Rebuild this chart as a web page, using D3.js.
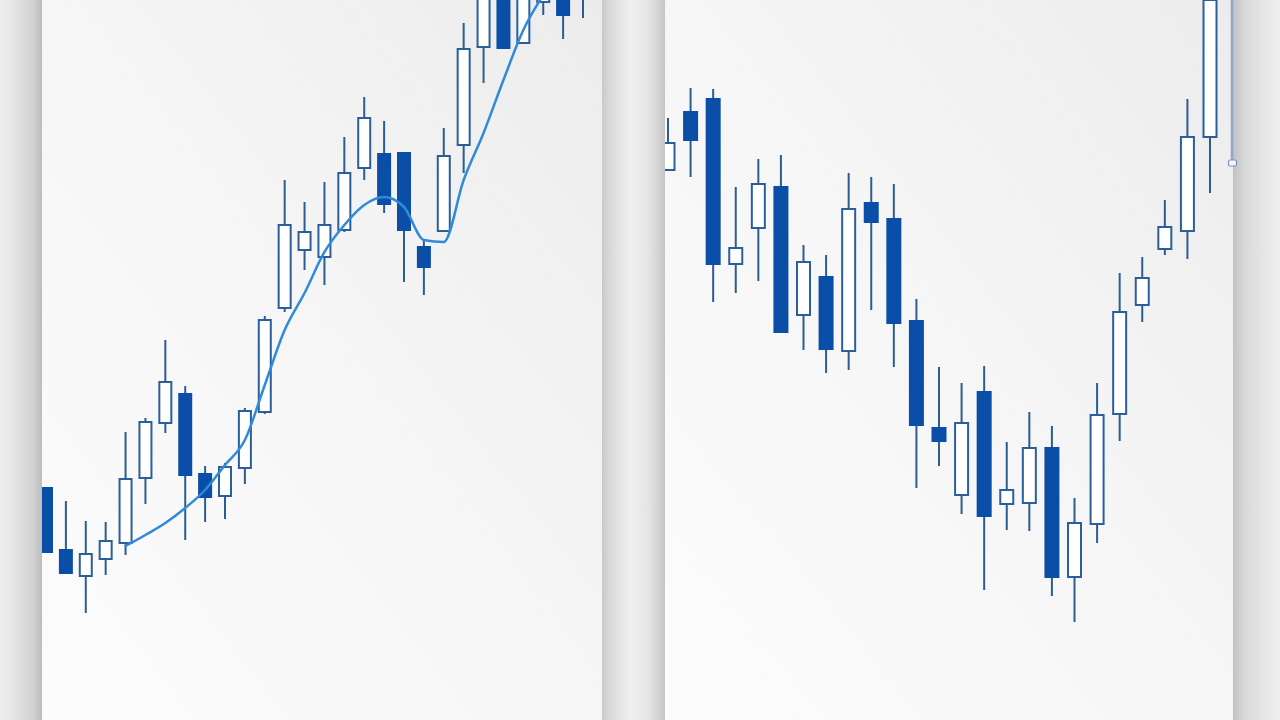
<!DOCTYPE html>
<html><head><meta charset="utf-8">
<script src="https://cdn.jsdelivr.net/npm/d3@7"></script>
<style>html,body{margin:0;padding:0;background:#e6e6e6;overflow:hidden}</style>
</head><body>
<svg id="c" width="1280" height="720"></svg>
<script>
// ---- Left chart (uptrend) ----
const leftOpen  = [46.4,34,28.8,32.2,35.4,48.4,59.4,65.2,49.2,44.8,50.4,61.6,82.4,94,92.6,98,110.4,113.2,113.4,94.6,97.8,115,134.6,150,135.4,143.6,150,144.4];
const leftHigh  = [46.4,43.8,39.8,39.6,57.6,60.4,76,66.8,50.8,51.4,62.4,80.8,108,103.6,107.6,116.6,124.6,119.8,113.4,96,118.4,139.4,155,155,155,155,155,155];
const leftLow   = [33.6,29.4,21.4,29,33,43.2,57.4,36,39.6,40.2,47.2,61.2,81.6,90,87,97.6,108,101.4,87.6,85,97.8,109.4,127.4,134.4,135.4,141,136.2,140.4];
const leftClose = [33.6,29.4,33.2,35.8,48.2,59.6,67.6,49,44.6,50.6,61.8,80,99,97.6,99,109.4,120.4,103.2,98,90.6,112.8,134.2,150,134.4,150,150,141,150];
const leftMA    = [null,null,null,null,34.8,37,39.4,42.4,46,51,56,67,78,85.4,93.6,99,103,104.6,102.6,96,95.6,108,117.4,128,138,145,null,null];

// ---- Right chart (down then up) ----
const rightOpen  = [110,121.6,124.2,91.2,98.4,106.6,81,88.6,73.8,103.4,100.2,79.8,58.4,45,65.6,43.2,43.4,54.4,28.6,39.2,61.2,83,94.2,97.8,116.6];
const rightHigh  = [120.4,126.4,126.2,106.6,112.2,113,95,93,109.4,108.6,107.2,84.2,70.6,67.4,70.8,55.6,61.6,58.8,44.4,67.4,89.4,92.6,104,124.2,150];
const rightLow   = [110,108.6,83.6,85.4,87.8,77.6,74,69.4,70,82,70.6,46.4,50.8,41.2,26,38,37.8,24.8,19.6,35.4,55.8,79.6,93,92.2,105.4];
const rightClose = [115.4,116,91.2,94.4,107.2,77.6,91.6,74.2,102.2,99.6,79.4,59,55.8,59.4,40.8,46,54.4,28.6,39.4,61,81.6,88.4,98.6,116.6,144];

const W = 1280, H = 720;
const svg = d3.select("#c");
const defs = svg.append("defs");

function hGrad(id, stops, x1=0,y1=0,x2=1,y2=0){
  const g = defs.append("linearGradient").attr("id",id)
    .attr("x1",x1).attr("y1",y1).attr("x2",x2).attr("y2",y2);
  stops.forEach(([o,c])=>g.append("stop").attr("offset",o).attr("stop-color",c));
}
hGrad("gLeftGutter",[[0,"#ededed"],[0.3,"#e6e6e6"],[0.8,"#d0d0d0"],[1,"#bcbcbc"]]);
hGrad("gGap",[[0,"#c9c9c9"],[0.12,"#d9d9d9"],[0.45,"#f0f0f0"],[0.75,"#e4e4e4"],[0.95,"#cdcdcd"],[1,"#c4c4c4"]]);
hGrad("gRightSide",[[0,"#c2c2c2"],[0.25,"#d8d8d8"],[0.7,"#e8e8e8"],[1,"#eeeeee"]]);
hGrad("gPanel",[[0,"#fcfcfc"],[0.5,"#f6f6f6"],[1,"#ececec"]],0,1,1,0);

// backgrounds
svg.append("rect").attr("width",W).attr("height",H).attr("fill","#e6e6e6");
svg.append("rect").attr("x",0).attr("y",0).attr("width",42).attr("height",H).attr("fill","url(#gLeftGutter)");
svg.append("rect").attr("x",602).attr("y",0).attr("width",63).attr("height",H).attr("fill","url(#gGap)");
svg.append("rect").attr("x",1233).attr("y",0).attr("width",47).attr("height",H).attr("fill","url(#gRightSide)");

const y = d3.scaleLinear().domain([0,144]).range([H,0]);

const panels = [
  {x0:42, x1:602, open:leftOpen, high:leftHigh, low:leftLow, close:leftClose, ma:leftMA,
   x: d3.scaleLinear().domain([0,leftOpen.length-1]).range([46,583]), bw:14},
  {x0:665, x1:1233, open:rightOpen, high:rightHigh, low:rightLow, close:rightClose, ma:null,
   x: d3.scaleLinear().domain([0,rightOpen.length-1]).range([668,1210]), bw:15}
];

const upStroke = "#2b5f9c", wickCol = "#2d5c91", downFill = "#0b4ea8";

panels.forEach((p,pi)=>{
  svg.append("rect").attr("x",p.x0).attr("y",0).attr("width",p.x1-p.x0).attr("height",H)
    .attr("fill","url(#gPanel)");
  const cid = "clip"+pi;
  defs.append("clipPath").attr("id",cid).append("rect")
    .attr("x",p.x0).attr("y",0).attr("width",p.x1-p.x0).attr("height",H);
  const g = svg.append("g").attr("clip-path",`url(#${cid})`);
  const data = p.open.map((o,i)=>({i,o,h:p.high[i],l:p.low[i],c:p.close[i]}));

  // wicks
  g.selectAll("line.wick").data(data).join("line").attr("class","wick")
    .attr("x1",d=>p.x(d.i)).attr("x2",d=>p.x(d.i))
    .attr("y1",d=>y(d.h)).attr("y2",d=>y(d.l))
    .attr("stroke",wickCol).attr("stroke-width",2);

  // bodies
  g.selectAll("rect.body").data(data).join("rect").attr("class","body")
    .attr("x",d=>p.x(d.i)-p.bw/2+1).attr("width",p.bw-2)
    .attr("y",d=>y(Math.max(d.o,d.c))).attr("height",d=>Math.max(2,Math.abs(y(d.o)-y(d.c))))
    .attr("fill",d=>d.c>=d.o ? "#ffffff" : downFill)
    .attr("stroke",d=>d.c>=d.o ? upStroke : downFill).attr("stroke-width",2);

  if(p.ma){
    const line = d3.line().defined(d=>d!=null).x((d,i)=>p.x(i)).y(d=>y(d)).curve(d3.curveMonotoneX);
    g.append("path").datum(p.ma).attr("d",line).attr("fill","none")
      .attr("stroke","#2f8ad9").attr("stroke-width",2.5).attr("stroke-linecap","round");
  }
});

// thin scrollbar-like line at the right panel edge
svg.append("line").attr("x1",1232).attr("x2",1232).attr("y1",0).attr("y2",162)
  .attr("stroke","#8fa7c9").attr("stroke-width",2.5);
svg.append("rect").attr("x",1228.5).attr("y",160).attr("width",8).attr("height",6).attr("rx",1.5)
  .attr("fill","#f4f6fa").attr("stroke","#7f93b3").attr("stroke-width",1.2);
</script>
</body></html>
